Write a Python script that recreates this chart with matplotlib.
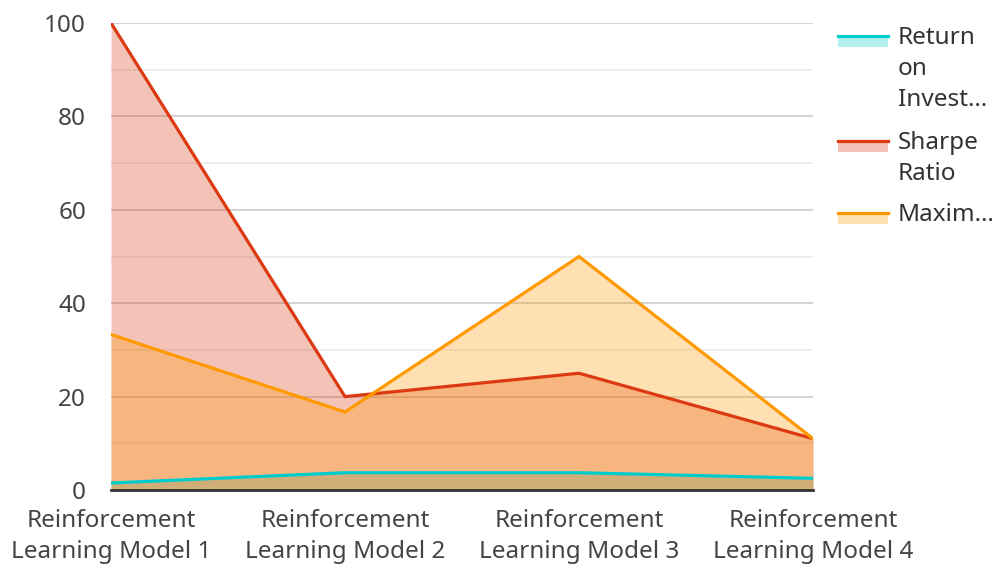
import matplotlib
matplotlib.use("Agg")
import matplotlib.pyplot as plt
from matplotlib.patches import Rectangle
from matplotlib.lines import Line2D

plt.rcParams['font.family'] = ['Noto Sans', 'DejaVu Sans']

categories = ["Reinforcement\nLearning Model 1", "Reinforcement\nLearning Model 2",
              "Reinforcement\nLearning Model 3", "Reinforcement\nLearning Model 4"]
roi = [1.5, 3.7, 3.7, 2.5]
sharpe = [100, 20, 25, 11]
max_dd = [33.3, 16.7, 50, 11]
series_labels = ["Return\non\nInvest…", "Sharpe\nRatio", "Maxim…"]
colors = ["#00cccc", "#dc3912", "#ff9900"]
yticks = [0, 20, 40, 60, 80, 100]

FS = 17.5
W, H = 997, 564
fig = plt.figure(figsize=(W / 100, H / 100), dpi=100)
ax = fig.add_axes([111 / W, 1 - 490 / H, (813 - 111) / W, (490 - 23) / H])

x = list(range(len(categories)))
order = [(roi, colors[0]), (sharpe, colors[1]), (max_dd, colors[2])]
for data, c in order:
    ax.fill_between(x, 0, data, color=c, alpha=0.3, linewidth=0, zorder=2)
for data, c in order:
    ax.plot(x, data, color=c, linewidth=2.3, zorder=3, solid_joinstyle='miter')

ax.set_xlim(0, 3)
ax.set_ylim(0, 100)
ax.set_yticks(yticks)
ax.set_yticks([10, 30, 50, 70, 90], minor=True)
ax.yaxis.grid(True, which='major', color='#cccccc', linewidth=1.2, zorder=1)
ax.yaxis.grid(True, which='minor', color='#ebebeb', linewidth=1.2, zorder=1)
ax.set_axisbelow(True)
ax.set_xticks(x)
ax.set_xticklabels(categories)
ax.tick_params(axis='both', which='both', length=0, labelsize=FS, labelcolor='#444444')
ax.tick_params(axis='y', pad=18)
ax.tick_params(axis='x', pad=14)
for lab in ax.get_xticklabels():
    lab.set_linespacing(1.35)
for s in ['top', 'right', 'left']:
    ax.spines[s].set_visible(False)
ax.spines['bottom'].set_color('#333333')
ax.spines['bottom'].set_linewidth(2)
ax.spines['bottom'].set_zorder(4)

# legend drawn manually
def px(xp, yp):
    return xp / W, 1 - yp / H

legend_items = [(series_labels[0], colors[0], 35), (series_labels[1], colors[1], 140), (series_labels[2], colors[2], 212)]
for label, c, yline in legend_items:
    x0, y0 = px(838, yline + 12)
    rect = Rectangle((x0, y0), 50 / W, 11 / H, transform=fig.transFigure,
                     facecolor=c, alpha=0.3, linewidth=0)
    fig.add_artist(rect)
    lx0, ly = px(838, yline + 0.5)
    lx1, _ = px(888, yline)
    fig.add_artist(Line2D([lx0, lx1], [ly, ly], transform=fig.transFigure, color=c, linewidth=2.3))
    tx, ty = px(898, yline - 9)
    fig.text(tx, ty, label, fontsize=FS, color='#333333', va='top', ha='left', linespacing=1.38)

fig.savefig("out.png", dpi=100)
